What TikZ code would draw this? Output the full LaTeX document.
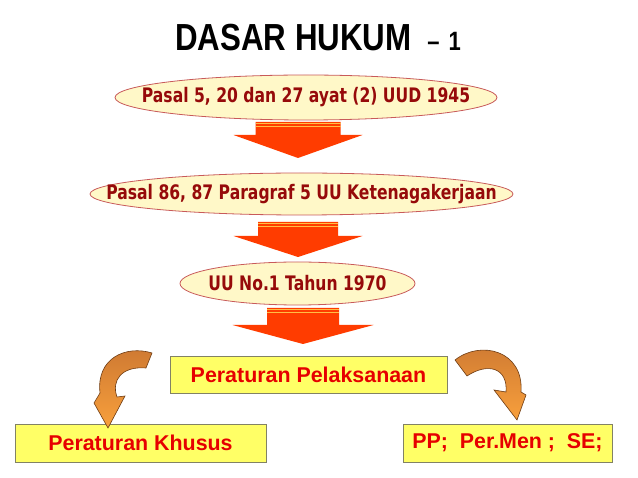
\documentclass[tikz,border=0pt]{standalone}
\usepackage{fontspec}
\setmainfont{Liberation Sans}
\newfontfamily\verd{DejaVu Sans}
\usetikzlibrary{shapes.geometric}

\definecolor{ellfill}{RGB}{255,248,200}
\definecolor{elldraw}{RGB}{200,90,90}
\definecolor{elltext}{RGB}{150,10,10}
\definecolor{arrred}{RGB}{255,60,0}
\definecolor{stripe}{RGB}{255,190,70}
\definecolor{boxfill}{RGB}{255,255,102}
\definecolor{boxdraw}{RGB}{130,130,100}
\definecolor{boxtext}{RGB}{230,0,0}
\definecolor{curvtop}{RGB}{205,120,50}
\definecolor{curvbot}{RGB}{248,160,60}
\definecolor{curvline}{RGB}{110,60,20}

% block arrow: centre x, top, head base, tip, half shaft, half head
\newcommand\blockarrow[6]{%
  \fill[arrred] ({#1-#5},#2) -- ({#1+#5},#2) -- ({#1+#5},#3) -- ({#1+#6},#3)
    -- (#1,#4) -- ({#1-#6},#3) -- ({#1-#5},#3) -- cycle;
  \foreach \s in {1.5,4.5}
    \draw[stripe, line width=1.2pt] ({#1-#5},{#2+\s}) -- ({#1+#5},{#2+\s});
}
% narrowed ellipse text
\newcommand\lawtext[1]{\makebox[0pt]{\scalebox{0.78}[1]{#1}}}

\begin{document}
\begin{tikzpicture}[x=1pt, y=-1pt,
  law/.style={ellipse, draw=elldraw, line width=0.8pt, fill=ellfill, inner sep=0pt,
    text=elltext, font=\verd\bfseries\fontsize{20}{22}\selectfont},
  rule/.style={rectangle, draw=boxdraw, line width=0.9pt, fill=boxfill, inner sep=0pt,
    text=boxtext, font=\bfseries\fontsize{21.4}{24}\selectfont},
  curvarrow/.style={draw=curvline, line width=0.6pt, top color=curvtop, bottom color=curvbot}]
  \useasboundingbox (0,0) rectangle (638,478);

  \node (title) [anchor=base west, inner sep=0pt] at (175,51)
    {\scalebox{0.83}[1]{\bfseries\fontsize{37.7}{40}\selectfont DASAR HUKUM\hspace{19pt}{\fontsize{26.5}{30}\selectfont --\hspace{11pt}1}}};

  \node (uud) [law, minimum width=382, minimum height=45] at (306,97.5)
    {\lawtext{Pasal 5, 20 dan 27 ayat (2) UUD 1945}};
  \node (uuk) [law, minimum width=423, minimum height=42] at (301.5,194)
    {\lawtext{Pasal 86, 87 Paragraf 5 UU Ketenagakerjaan}};
  \node (uu1) [law, minimum width=235, minimum height=43] at (297.5,283.5)
    {\lawtext{UU No.1 Tahun 1970}};

  \node (pelak) [rule, minimum width=277, minimum height=37] at (308.5,374.5)
    {Peraturan Pelaksanaan};
  \node (khusus) [rule, minimum width=251, minimum height=38] at (140.5,443)
    {Peraturan Khusus};
  \node (pp) [rule, minimum width=209, minimum height=38] at (507.5,443)
    {PP;~~Per.Men~;~~SE;};

  \blockarrow{298}{122}{135}{158}{42.5}{64.5}
  \blockarrow{298}{222}{236}{257}{40}{64.5}
  \blockarrow{303}{308}{325}{344}{36}{70.5}

  % curved arrows to the lower boxes
  \path[curvarrow] (152,353) .. controls (126,345) and (96,358) .. (100,393) -- (94,403)
    -- (108,428) -- (125,396) -- (117,397) .. controls (111,380) and (122,366) .. (146,368) -- cycle;
  \path[curvarrow] (455,360) .. controls (480,340) and (524,350) .. (521,392) -- (526,395)
    -- (517,420) -- (494,390) -- (506,392) .. controls (508,368) and (488,362) .. (467,376) -- cycle;
\end{tikzpicture}
\end{document}
